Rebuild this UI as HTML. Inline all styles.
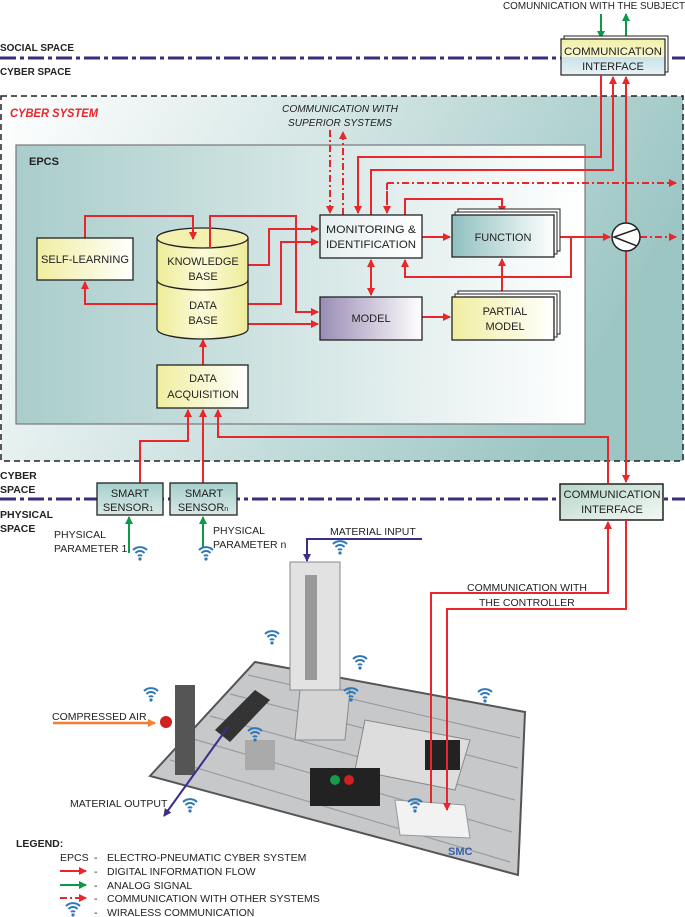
<!DOCTYPE html>
<html><head><meta charset="utf-8"><style>
html,body{margin:0;padding:0;background:#fff}
svg{display:block}
text{font-family:"Liberation Sans Narrow","Liberation Sans",sans-serif;fill:#222}
</style></head><body>
<svg width="685" height="917" viewBox="0 0 685 917" xmlns="http://www.w3.org/2000/svg">
<defs>
<marker id="a" markerWidth="8" markerHeight="8" refX="7" refY="4" orient="auto" markerUnits="userSpaceOnUse"><path d="M0,0L8,4L0,8z" fill="#e8262b"/></marker>
<marker id="g" markerWidth="8" markerHeight="8" refX="7" refY="4" orient="auto" markerUnits="userSpaceOnUse"><path d="M0,0L8,4L0,8z" fill="#0a9a48"/></marker>
<marker id="p" markerWidth="8" markerHeight="8" refX="7" refY="4" orient="auto" markerUnits="userSpaceOnUse"><path d="M0,0L8,4L0,8z" fill="#3a2e8a"/></marker>
<marker id="o" markerWidth="8" markerHeight="8" refX="7" refY="4" orient="auto" markerUnits="userSpaceOnUse"><path d="M0,0L8,4L0,8z" fill="#f08030"/></marker>
<linearGradient id="cs" x1="0" y1="0" x2="1" y2="0.3"><stop offset="0" stop-color="#ffffff"/><stop offset="0.45" stop-color="#d6e7e6"/><stop offset="1" stop-color="#9cc6c4"/></linearGradient>
<linearGradient id="ep" x1="0" y1="0" x2="1" y2="0"><stop offset="0" stop-color="#a9cdcb"/><stop offset="1" stop-color="#ffffff"/></linearGradient>
<linearGradient id="ye" x1="0" y1="0" x2="1" y2="0"><stop offset="0" stop-color="#f0eea0"/><stop offset="1" stop-color="#ffffff"/></linearGradient>
<linearGradient id="cy" x1="0" y1="0" x2="1" y2="0"><stop offset="0" stop-color="#eeec98"/><stop offset="0.5" stop-color="#fbfbd8"/><stop offset="1" stop-color="#eeec98"/></linearGradient>
<linearGradient id="te" x1="0" y1="0" x2="1" y2="0"><stop offset="0" stop-color="#8fc0bf"/><stop offset="1" stop-color="#ffffff"/></linearGradient>
<linearGradient id="pu" x1="0" y1="0" x2="1" y2="0"><stop offset="0" stop-color="#9a8cb4"/><stop offset="1" stop-color="#ffffff"/></linearGradient>
<linearGradient id="mo" x1="0" y1="0" x2="1" y2="0"><stop offset="0" stop-color="#e4eeee"/><stop offset="1" stop-color="#ffffff"/></linearGradient>
<linearGradient id="ss" x1="0" y1="0" x2="0" y2="1"><stop offset="0" stop-color="#a6d0cc"/><stop offset="1" stop-color="#d8e8e4"/></linearGradient>
<linearGradient id="ci2" x1="0" y1="0" x2="1" y2="1"><stop offset="0" stop-color="#b6d6c8"/><stop offset="1" stop-color="#f4f8f4"/></linearGradient>
<linearGradient id="ci1" x1="0" y1="0" x2="0" y2="1"><stop offset="0" stop-color="#f2f0a8"/><stop offset="0.5" stop-color="#f6f6d0"/><stop offset="0.5" stop-color="#c8e2ea"/><stop offset="1" stop-color="#e8f2f4"/></linearGradient>
<g id="wf"><path d="M-7,-3 A10,10 0 0 1 7,-3" fill="none" stroke="#2c78b8" stroke-width="2"/><path d="M-4.5,0 A6,6 0 0 1 4.5,0" fill="none" stroke="#2c78b8" stroke-width="2"/><path d="M-2,3 A3,3 0 0 1 2,3" fill="none" stroke="#2c78b8" stroke-width="2"/><circle cx="0" cy="6" r="1.6" fill="#2c78b8"/></g>
</defs>

<text x="503" y="9" font-size="10.5" textLength="182" lengthAdjust="spacingAndGlyphs">COMUNNICATION WITH THE SUBJECT</text>
<text x="0" y="51" font-size="10.5" font-weight="bold" textLength="74" lengthAdjust="spacingAndGlyphs">SOCIAL SPACE</text>
<text x="0" y="75" font-size="10.5" font-weight="bold" textLength="71" lengthAdjust="spacingAndGlyphs">CYBER SPACE</text>
<line x1="0" y1="58" x2="685" y2="58" stroke="#3a2e7a" stroke-width="3" stroke-dasharray="16 4 4 4"/>
<line x1="601" y1="14" x2="601" y2="38" stroke="#0a9a48" stroke-width="2" marker-end="url(#g)"/>
<line x1="626" y1="38" x2="626" y2="14" stroke="#0a9a48" stroke-width="2" marker-end="url(#g)"/>
<rect x="564" y="36" width="104" height="36" fill="#fff" stroke="#222"/>
<rect x="561" y="39" width="104" height="36" fill="url(#ci1)" stroke="#222" stroke-width="1.2"/>
<text x="613" y="55" font-size="11" text-anchor="middle" textLength="98" lengthAdjust="spacingAndGlyphs">COMMUNICATION</text>
<text x="613" y="70" font-size="11" text-anchor="middle">INTERFACE</text>

<rect x="1" y="96" width="682" height="365" fill="url(#cs)" stroke="#222" stroke-width="1.5" stroke-dasharray="6 4"/>
<text x="10" y="117" font-size="12" font-weight="bold" font-style="italic" style="fill:#e8262b" textLength="88" lengthAdjust="spacingAndGlyphs">CYBER SYSTEM</text>
<text x="340" y="112" font-size="10" font-style="italic" text-anchor="middle" textLength="116" lengthAdjust="spacingAndGlyphs">COMMUNICATION WITH</text>
<text x="340" y="126" font-size="10" font-style="italic" text-anchor="middle" textLength="104" lengthAdjust="spacingAndGlyphs">SUPERIOR SYSTEMS</text>

<rect x="16" y="145" width="569" height="279" fill="url(#ep)" stroke="#777" stroke-width="1.2"/>
<text x="29" y="165" font-size="11" font-weight="bold">EPCS</text>

<g fill="none" stroke="#e8262b" stroke-width="2">
<path d="M601,75 V157 H358 V213" marker-end="url(#a)"/>
<path d="M371,215 V170 H613 V77" marker-end="url(#a)"/>
<path d="M626,481 V77" marker-end="url(#a)"/>
<path d="M626,90 V482" marker-end="url(#a)"/>
<path d="M405,215 V199 H502 V213" marker-end="url(#a)"/>
<path d="M422,237 H450" marker-end="url(#a)"/>
<path d="M554,237 H610" marker-end="url(#a)"/>
<path d="M571,237 V277 H405 V260" marker-end="url(#a)"/>
<path d="M371,275 V260" marker-end="url(#a)"/>
<path d="M371,275 V295" marker-end="url(#a)"/>
<path d="M502,297 V259" marker-end="url(#a)"/>
<path d="M422,317 H450" marker-end="url(#a)"/>
<path d="M85,238 V216 H193 V239" marker-end="url(#a)"/>
<path d="M210,238 V216 H296 V312 H318" marker-end="url(#a)"/>
<path d="M248,265 H269 V229 H318" marker-end="url(#a)"/>
<path d="M248,304 H281 V242 H318" marker-end="url(#a)"/>
<path d="M248,324 H318" marker-end="url(#a)"/>
<path d="M157,304 H85 V282" marker-end="url(#a)"/>
<path d="M203,365 V340" marker-end="url(#a)"/>
<path d="M140,483 V441 H188 V410" marker-end="url(#a)"/>
<path d="M203,483 V410" marker-end="url(#a)"/>
<path d="M608,483 V437 H218 V410" marker-end="url(#a)"/>
</g>
<g fill="none" stroke="#e8262b" stroke-width="2" stroke-dasharray="7 3 2 3">
<path d="M330,130 V213" marker-end="url(#a)"/>
<path d="M343,215 V132" marker-end="url(#a)"/>
<path d="M387,213 V183 H676" marker-end="url(#a)"/>
<path d="M387,183 V213" marker-end="url(#a)"/>
<path d="M640,237 H676" marker-end="url(#a)"/>
</g>

<rect x="37" y="238" width="96" height="42" fill="url(#ye)" stroke="#222" stroke-width="1.3"/>
<text x="85" y="263" font-size="11" text-anchor="middle" textLength="88" lengthAdjust="spacingAndGlyphs">SELF-LEARNING</text>
<path d="M157,238 V329 A45.5,10 0 0 0 248,329 V238" fill="url(#cy)" stroke="#222" stroke-width="1.3"/>
<path d="M157,280 A45.5,10 0 0 0 248,280" fill="none" stroke="#222" stroke-width="1.3"/>
<ellipse cx="202.5" cy="238" rx="45.5" ry="10" fill="#f3f1b0" stroke="#222" stroke-width="1.3"/>
<path d="M193,216 V239" stroke="#e8262b" stroke-width="2" fill="none" marker-end="url(#a)"/>
<path d="M210,248 V216" stroke="#e8262b" stroke-width="2" fill="none"/>
<text x="203" y="265" font-size="11" text-anchor="middle">KNOWLEDGE</text>
<text x="203" y="280" font-size="11" text-anchor="middle">BASE</text>
<text x="203" y="309" font-size="11" text-anchor="middle">DATA</text>
<text x="203" y="324" font-size="11" text-anchor="middle">BASE</text>

<rect x="157" y="365" width="91" height="43" fill="url(#ye)" stroke="#222" stroke-width="1.3"/>
<text x="203" y="382" font-size="11" text-anchor="middle">DATA</text>
<text x="203" y="398" font-size="11" text-anchor="middle">ACQUISITION</text>

<rect x="320" y="215" width="102" height="43" fill="url(#mo)" stroke="#222" stroke-width="1.3"/>
<text x="371" y="233" font-size="11" text-anchor="middle" textLength="90" lengthAdjust="spacingAndGlyphs">MONITORING &amp;</text>
<text x="371" y="248" font-size="11" text-anchor="middle" textLength="90" lengthAdjust="spacingAndGlyphs">IDENTIFICATION</text>

<rect x="458" y="209" width="102" height="42" fill="#fff" stroke="#222"/>
<rect x="455" y="212" width="102" height="42" fill="#fff" stroke="#222"/>
<rect x="452" y="215" width="102" height="42" fill="url(#te)" stroke="#222" stroke-width="1.3"/>
<text x="503" y="241" font-size="11" text-anchor="middle">FUNCTION</text>

<rect x="320" y="297" width="102" height="43" fill="url(#pu)" stroke="#222" stroke-width="1.3"/>
<text x="371" y="322" font-size="11" text-anchor="middle">MODEL</text>

<rect x="458" y="291" width="102" height="43" fill="#fff" stroke="#222"/>
<rect x="455" y="294" width="102" height="43" fill="#fff" stroke="#222"/>
<rect x="452" y="297" width="102" height="43" fill="url(#ye)" stroke="#222" stroke-width="1.3"/>
<text x="505" y="315" font-size="11" text-anchor="middle">PARTIAL</text>
<text x="505" y="330" font-size="11" text-anchor="middle">MODEL</text>

<circle cx="626" cy="237" r="14" fill="#fff" stroke="#222" stroke-width="1.5"/>
<path d="M637,229 L614,237 L637,246" fill="none" stroke="#222" stroke-width="1.5"/>

<text x="0" y="479" font-size="10.5" font-weight="bold">CYBER</text>
<text x="0" y="493" font-size="10.5" font-weight="bold">SPACE</text>
<text x="0" y="518" font-size="10.5" font-weight="bold">PHYSICAL</text>
<text x="0" y="532" font-size="10.5" font-weight="bold">SPACE</text>
<line x1="0" y1="499" x2="685" y2="499" stroke="#3a2e7a" stroke-width="3" stroke-dasharray="16 4 4 4"/>

<rect x="97" y="483" width="66" height="32" fill="url(#ss)" stroke="#222" stroke-width="1.3"/>
<text x="130" y="497" font-size="11" text-anchor="middle">SMART</text>
<text x="128" y="511" font-size="11" text-anchor="middle">SENSOR<tspan font-size="7">1</tspan></text>
<rect x="170" y="483" width="67" height="32" fill="url(#ss)" stroke="#222" stroke-width="1.3"/>
<text x="204" y="497" font-size="11" text-anchor="middle">SMART</text>
<text x="203" y="511" font-size="11" text-anchor="middle">SENSOR<tspan font-size="7">n</tspan></text>

<rect x="560" y="484" width="103" height="36" fill="url(#ci2)" stroke="#222" stroke-width="1.5"/>
<text x="612" y="498" font-size="11" text-anchor="middle" textLength="97" lengthAdjust="spacingAndGlyphs">COMMUNICATION</text>
<text x="612" y="513" font-size="11" text-anchor="middle">INTERFACE</text>

<line x1="129" y1="553" x2="129" y2="517" stroke="#0a9a48" stroke-width="2" marker-end="url(#g)"/>
<line x1="203" y1="548" x2="203" y2="517" stroke="#0a9a48" stroke-width="2" marker-end="url(#g)"/>
<text x="54" y="538" font-size="10.5">PHYSICAL</text>
<text x="54" y="552" font-size="10.5">PARAMETER 1</text>
<text x="213" y="534" font-size="10.5">PHYSICAL</text>
<text x="213" y="548" font-size="10.5">PARAMETER n</text>
<use href="#wf" x="140" y="553"/>
<use href="#wf" x="206" y="553"/>

<path d="M422,539 H307 V561" fill="none" stroke="#3a2e8a" stroke-width="2" marker-end="url(#p)"/>
<text x="330" y="535" font-size="10.5">MATERIAL INPUT</text>
<use href="#wf" x="340" y="547"/>

<polygon points="150,776 255,662 525,712 518,875" fill="#c6c8ca" stroke="#555" stroke-width="2"/>
<g stroke="#9a9ca0" stroke-width="1.2">
<line x1="170" y1="760" x2="510" y2="862"/><line x1="190" y1="738" x2="512" y2="832"/><line x1="210" y1="716" x2="515" y2="800"/><line x1="230" y1="694" x2="518" y2="768"/><line x1="248" y1="675" x2="520" y2="738"/>
</g>
<rect x="290" y="562" width="50" height="128" fill="#e2e2e2" stroke="#888"/>
<rect x="305" y="575" width="12" height="105" fill="#999"/>
<polygon points="300,690 350,690 345,740 295,740" fill="#d4d4d4" stroke="#888"/>
<rect x="175" y="685" width="20" height="90" fill="#555"/>
<circle cx="166" cy="722" r="6" fill="#d02020"/>
<polygon points="215,730 255,690 270,700 230,742" fill="#333"/>
<polygon points="365,720 470,740 455,790 355,770" fill="#ddd" stroke="#888"/>
<rect x="425" y="740" width="35" height="30" fill="#222"/>
<rect x="310" y="768" width="70" height="38" fill="#222"/>
<circle cx="335" cy="780" r="5" fill="#1a9a4a"/><circle cx="349" cy="780" r="5" fill="#d02020"/>
<polygon points="395,800 465,805 470,838 400,835" fill="#f2f2f2" stroke="#999"/>
<rect x="245" y="740" width="30" height="30" fill="#aaa"/>
<text x="448" y="855" font-size="11" font-weight="bold" style="fill:#3a5fa8">SMC</text>

<path d="M53,723 H155" fill="none" stroke="#f08030" stroke-width="2.5" marker-end="url(#o)"/>
<text x="52" y="720" font-size="10.5">COMPRESSED AIR</text>
<path d="M228,727 L164,816" fill="none" stroke="#3a2e8a" stroke-width="2" marker-end="url(#p)"/>
<text x="70" y="807" font-size="10.5">MATERIAL OUTPUT</text>

<use href="#wf" x="272" y="637"/>
<use href="#wf" x="360" y="662"/>
<use href="#wf" x="151" y="694"/>
<use href="#wf" x="351" y="694"/>
<use href="#wf" x="485" y="695"/>
<use href="#wf" x="255" y="734"/>
<use href="#wf" x="190" y="805"/>
<use href="#wf" x="415" y="805"/>

<path d="M431,803 V593 H608 V522" fill="none" stroke="#e8262b" stroke-width="2" marker-end="url(#a)"/>
<path d="M626,520 V609 H447 V810" fill="none" stroke="#e8262b" stroke-width="2" marker-end="url(#a)"/>
<text x="467" y="591" font-size="10.5">COMMUNICATION WITH</text>
<text x="479" y="606" font-size="10.5">THE CONTROLLER</text>

<text x="16" y="847" font-size="10.5" font-weight="bold">LEGEND:</text>
<text x="60" y="861" font-size="10.5">EPCS</text>
<text x="94" y="861" font-size="10.5">-</text><text x="107" y="861" font-size="10.5">ELECTRO-PNEUMATIC CYBER SYSTEM</text>
<line x1="60" y1="871" x2="86" y2="871" stroke="#e8262b" stroke-width="2" marker-end="url(#a)"/>
<text x="94" y="875" font-size="10.5">-</text><text x="107" y="875" font-size="10.5">DIGITAL INFORMATION FLOW</text>
<line x1="60" y1="885" x2="86" y2="885" stroke="#0a9a48" stroke-width="2" marker-end="url(#g)"/>
<text x="94" y="889" font-size="10.5">-</text><text x="107" y="889" font-size="10.5">ANALOG SIGNAL</text>
<line x1="60" y1="898" x2="86" y2="898" stroke="#e8262b" stroke-width="2" stroke-dasharray="7 3 2 3" marker-end="url(#a)"/>
<text x="94" y="902" font-size="10.5">-</text><text x="107" y="902" font-size="10.5">COMMUNICATION WITH OTHER SYSTEMS</text>
<use href="#wf" x="73" y="909"/>
<text x="94" y="916" font-size="10.5">-</text><text x="107" y="916" font-size="10.5">WIRALESS COMMUNICATION</text>
</svg>
</body></html>
